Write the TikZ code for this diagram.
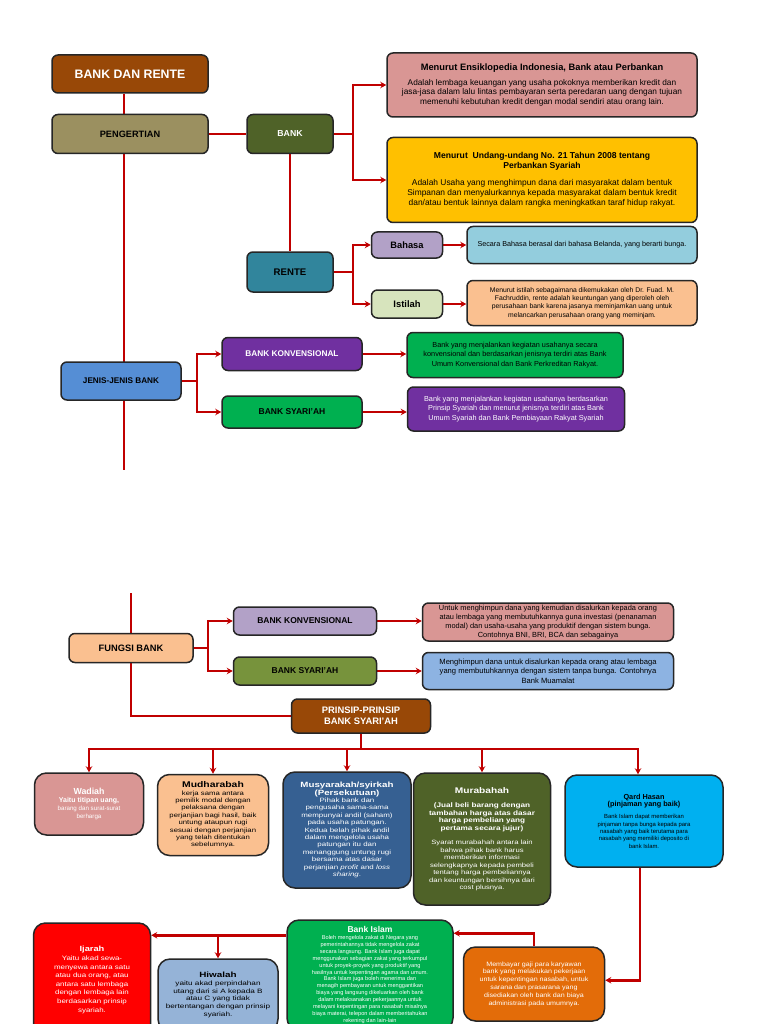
\documentclass[tikz,border=0pt]{standalone}
\usepackage{fontspec}
\setmainfont{Liberation Sans}
\usetikzlibrary{arrows.meta,calc}
\definecolor{lnred}{HTML}{C00000}
\definecolor{cBrown}{HTML}{984807}
\definecolor{cTan}{HTML}{9B9060}
\definecolor{cOlive}{HTML}{4F6228}
\definecolor{cPink}{HTML}{D99694}
\definecolor{cGold}{HTML}{FFC000}
\definecolor{cTeal}{HTML}{31859C}
\definecolor{cLav}{HTML}{B2A1C7}
\definecolor{cLgreen}{HTML}{D7E4BD}
\definecolor{cLblue}{HTML}{93CDDD}
\definecolor{cPeach}{HTML}{FAC090}
\definecolor{cBlue}{HTML}{558ED5}
\definecolor{cPurple}{HTML}{7030A0}
\definecolor{cGreen}{HTML}{00B050}
\definecolor{cMoss}{HTML}{77933C}
\definecolor{cSky}{HTML}{8DB3E2}
\definecolor{cNavy}{HTML}{366092}
\definecolor{cCyan}{HTML}{00B0F0}
\definecolor{cOrange}{HTML}{E36C09}
\definecolor{cRed}{HTML}{FF0000}
\definecolor{cSteel}{HTML}{95B3D7}
\newcommand\myfs[2]{\fontsize{#1}{#2}\selectfont}
\newcommand\mystretch[1]{\addfontfeatures{FakeStretch=#1}}
\pgfdeclarelayer{bg}\pgfsetlayers{bg,main}
\tikzset{
  tbox/.style={draw=black!85, line width=1.5pt, rounded corners=6pt, align=center, inner sep=1pt},
  pbox/.style={tbox, rounded corners=12pt},
  wh/.style 2 args={minimum width=#1pt, minimum height=#2pt},
  conn/.style={draw=lnred, line width=2.5pt},
  arr/.style={conn, -{Stealth[length=6pt,width=6.5pt]}},
}
\begin{document}
\begin{tikzpicture}[x=1pt,y=-1pt]
\useasboundingbox (0,0) rectangle (768,1024);

% ---------- top part ----------
\coordinate (sp) at (124,0);
\coordinate (spEnd) at (124,470);
\node[tbox, fill=cBrown, wh={156}{38}, text=white, font=\myfs{12.3}{14}\bfseries] (bdr) at (130,74) {BANK DAN RENTE};
\node[tbox, fill=cTan, wh={156}{39}, font=\myfs{9.2}{11}\bfseries] (peng) at (130,134) {PENGERTIAN};
\node[tbox, fill=cOlive, wh={86}{39}, text=white, font=\myfs{8.7}{10}\bfseries] (bank) at (290,134) {BANK};
\node[tbox, fill=cPink, wh={310}{64}, font=\myfs{8.3}{9.9}] (ens) at (542,85)
  {{\myfs{9.3}{10}\bfseries Menurut Ensiklopedia Indonesia, Bank atau Perbankan}\\[5pt]
   Adalah lembaga keuangan yang usaha pokoknya memberikan kredit dan\\
   jasa-jasa dalam lalu lintas pembayaran serta peredaran uang dengan tujuan\\
   memenuhi kebutuhan kredit dengan modal sendiri atau orang lain.};
\node[tbox, fill=cGold, wh={310}{85}, font=\myfs{8.4}{10.3}] (uu) at (542,180)
  {{\myfs{8.6}{10.5}\bfseries Menurut\ \ Undang-undang No. 21 Tahun 2008 tentang}\\
   {\myfs{8.6}{10.5}\bfseries Perbankan Syariah}\\[6pt]
   Adalah Usaha yang menghimpun dana dari masyarakat dalam bentuk\\
   Simpanan dan menyalurkannya kepada masyarakat dalam bentuk kredit\\
   dan/atau bentuk lainnya dalam rangka meningkatkan taraf hidup rakyat.};
\node[tbox, fill=cTeal, wh={86}{40}, font=\myfs{9.6}{11}\bfseries] (rente) at (290,272) {RENTE};
\node[tbox, fill=cLav, wh={71}{26}, font=\myfs{9.3}{11}\bfseries] (bahasa) at (407,245) {Bahasa};
\node[tbox, fill=cLgreen, wh={71}{28}, font=\myfs{9.4}{11}\bfseries] (istilah) at (407,304) {Istilah};
\node[tbox, fill=cLblue, wh={230}{37}, font=\myfs{7.2}{8.5}] (bahasaT) at (582,245)
  {Secara Bahasa berasal dari bahasa Belanda, yang berarti bunga.};
\node[tbox, fill=cPeach, wh={230}{45}, font=\myfs{6.8}{8.2}] (istilahT) at (582,303)
  {Menurut istilah sebagaimana dikemukakan oleh Dr. Fuad. M.\\
   Fachruddin, rente adalah keuntungan yang diperoleh oleh\\
   perusahaan bank karena jasanya meminjamkan uang untuk\\
   melancarkan perusahaan orang yang meminjam.};
\node[tbox, fill=cBlue, wh={120}{38}, font=\myfs{8.2}{10}\bfseries] (jenis) at (121,381) {JENIS-JENIS BANK};
\node[tbox, fill=cPurple, wh={140}{33}, text=white, font=\myfs{8.3}{10}\bfseries] (bk1) at (292,354) {BANK KONVENSIONAL};
\node[tbox, fill=cGreen, wh={140}{32}, font=\myfs{8.5}{10}\bfseries] (bs1) at (292,412) {BANK SYARI'AH};
\node[tbox, fill=cGreen, wh={216}{45}, font=\myfs{7.3}{9.6}] (bk1T) at (515,355)
  {Bank yang menjalankan kegiatan usahanya secara\\
   konvensional dan berdasarkan jenisnya terdiri atas Bank\\
   Umum Konvensional dan Bank Perkreditan Rakyat.};
\node[tbox, fill=cPurple, wh={217}{44}, text=white, font=\myfs{7.3}{9.6}] (bs1T) at (516,409)
  {Bank yang menjalankan kegiatan usahanya berdasarkan\\
   Prinsip Syariah dan menurut jenisnya terdiri atas Bank\\
   Umum Syariah dan Bank Pembiayaan Rakyat Syariah};

% ---------- bottom part ----------
\coordinate (sp2) at (131,593);
\node[tbox, fill=cPeach, wh={124}{29}, font=\myfs{9.3}{11}\bfseries] (fungsi) at (131,648) {FUNGSI BANK};
\node[tbox, fill=cLav, wh={143}{28}, font=\myfs{8.5}{10}\bfseries] (bk2) at (305,621) {BANK KONVENSIONAL};
\node[tbox, fill=cMoss, wh={143}{28}, font=\myfs{8.5}{10}\bfseries] (bs2) at (305,671) {BANK SYARI'AH};
\node[tbox, fill=cPink, wh={251}{38}, font=\myfs{7.4}{8.9}] (bk2T) at (548,622)
  {Untuk menghimpun dana yang kemudian disalurkan kepada orang\\
   atau lembaga yang membutuhkannya guna investasi (penanaman\\
   modal) dan usaha-usaha yang produktif dengan sistem bunga.\\
   Contohnya BNI, BRI, BCA dan sebagainya};
\node[tbox, fill=cSky, wh={251}{37}, font=\myfs{7.6}{9.4}] (bs2T) at (548,671)
  {Menghimpun dana untuk disalurkan kepada orang atau lembaga\\
   yang membutuhkannya dengan sistem tanpa bunga. Contohnya\\
   Bank Muamalat};
\node[tbox, fill=cBrown, wh={139}{34}, text=white, font=\myfs{9.4}{10.5}\bfseries] (prinsip) at (361,716)
  {PRINSIP-PRINSIP\\ BANK SYARI'AH};

\node[pbox, fill=cPink, wh={109}{62}, text=white, font=\myfs{6.2}{7.8}] (wadiah) at (89,804)
  {{\myfs{8.8}{9}\bfseries Wadiah}\\ {\myfs{7}{8}\bfseries Yaitu titipan uang,}\\ barang dan surat-surat\\ berharga};
\node[pbox, fill=cPeach, wh={111}{81}, font=\myfs{6.2}{7.4}\mystretch{1.25}] (mudh) at (213,815)
  {{\myfs{8.3}{9.5}\bfseries Mudharabah}\\ kerja sama antara\\ pemilik modal dengan\\ pelaksana dengan\\
   perjanjian bagi hasil, baik\\ untung ataupun rugi\\ sesuai dengan perjanjian\\ yang telah ditentukan\\ sebelumnya.};
\node[pbox, fill=cNavy, wh={128}{116}, text=white, font=\myfs{6.2}{7.4}\mystretch{1.28}] (musy) at (347,830)
  {{\myfs{7.6}{9.8}\bfseries Musyarakah/syirkah}\\ {\myfs{7.6}{9.8}\bfseries (Persekutuan)}\\ Pihak bank dan\\ pengusaha sama-sama\\
   mempunyai andil (saham)\\ pada usaha patungan.\\ Kedua belah pihak andil\\ dalam mengelola usaha\\
   patungan itu dan\\ menanggung untung rugi\\ bersama atas dasar\\ perjanjian \textit{profit} and \textit{loss}\\ \textit{sharing}.};
\node[pbox, fill=cOlive, wh={137}{132}, text=white, font=\myfs{6.2}{7.5}\mystretch{1.24}] (murab) at (482,839)
  {{\myfs{8.2}{9}\bfseries Murabahah}\\[7pt]
   {\myfs{6.6}{8.2}\bfseries (Jual beli barang dengan}\\ {\myfs{6.6}{8.2}\bfseries tambahan harga atas dasar}\\
   {\myfs{6.6}{8.2}\bfseries harga pembelian yang}\\ {\myfs{6.6}{8.2}\bfseries pertama secara jujur)}\\[7pt]
   Syarat murabahah antara lain\\ bahwa pihak bank harus\\ memberikan informasi\\ selengkapnya kepada pembeli\\
   tentang harga pembeliannya\\ dan keuntungan bersihnya dari\\ cost plusnya.};
\node[pbox, fill=cCyan, wh={158}{92}, font=\myfs{5.9}{7.3}] (qard) at (644,821)
  {{\myfs{7.3}{8.8}\bfseries Qard Hasan}\\ {\myfs{7.3}{8.8}\bfseries (pinjaman yang baik)}\\[5pt]
   Bank Islam dapat memberikan\\ pinjaman tanpa bunga kepada para\\ nasabah yang baik terutama para\\
   nasabah yang memiliki deposito di\\ bank Islam.};
\node[pbox, fill=cOrange, wh={141}{74}, text=white, font=\myfs{6.3}{7.8}\mystretch{1.13}] (oranye) at (534,984)
  {Membayar gaji para karyawan\\ bank yang melakukan pekerjaan\\ untuk kepentingan nasabah, untuk\\
   sarana dan prasarana yang\\ disediakan oleh bank dan biaya\\ administrasi pada umumnya.};
\node[pbox, fill=cGreen, wh={166}{110}, text=white, font=\myfs{5.6}{6.9}] (bislam) at (370,975)
  {{\myfs{8.5}{8}\bfseries Bank Islam}\\
   Boleh mengelola zakat di Negara yang\\ pemerintahannya tidak mengelola zakat\\ secara langsung. Bank Islam juga dapat\\
   menggunakan sebagian zakat yang terkumpul\\ untuk proyek-proyek yang produktif yang\\ hasilnya untuk kepentingan agama dan umum.\\
   Bank Islam juga boleh menerima dan\\ menagih pembayaran untuk menggantikan\\ biaya yang langsung dikeluarkan oleh bank\\
   dalam melaksanakan pekerjaannya untuk\\ melayani kepentingan para nasabah misalnya\\ biaya materai, telepon dalam memberitahukan\\ rekening dan lain-lain};
\node[pbox, fill=cRed, wh={117}{114}, text=white, font=\myfs{6.4}{8.6}\mystretch{1.24}] (ijarah) at (92,980)
  {{\myfs{7.5}{9}\bfseries Ijarah}\\ Yaitu akad sewa-\\ menyewa antara satu\\ atau dua orang, atau\\ antara satu lembaga\\
   dengan lembaga lain\\ berdasarkan prinsip\\ syariah.};
\node[pbox, fill=cSteel, wh={120}{72}, font=\myfs{6.3}{7.7}\mystretch{1.3}] (hiwalah) at (218,995)
  {{\myfs{7.6}{9}\bfseries Hiwalah}\\ yaitu akad perpindahan\\ utang dari si A kepada B\\ atau C yang tidak\\
   bertentangan dengan prinsip\\ syariah.};

% ---------- connectors ----------
\begin{pgfonlayer}{bg}
\fill[white] (0,0) rectangle (768,1024);
\draw[conn] (bdr.south -| sp) -- (peng.north -| sp);
\draw[conn] (peng.south -| sp) -- (spEnd);
\draw[conn] (peng.east) -- (bank.west);
\draw[arr] (bank.east) -- ++(19,0) |- (ens.west);
\draw[arr] (bank.east) -- ++(19,0) |- (uu.west);
\draw[conn] (bank.south) -- (rente.north);
\draw[arr] (rente.east) -- ++(19,0) |- (bahasa.west);
\draw[arr] (rente.east) -- ++(19,0) |- (istilah.west);
\draw[arr] (bahasa.east) -- (bahasaT.west);
\draw[arr] (istilah.east) -- (istilah.east -| istilahT.west);
\draw[arr] (jenis.east) -- ++(15,0) |- (bk1.west);
\draw[arr] (jenis.east) -- ++(15,0) |- (bs1.west);
\draw[arr] (bk1.east) -- (bk1.east -| bk1T.west);
\draw[arr] (bs1.east) -- (bs1.east -| bs1T.west);

\draw[conn] (sp2) -- (fungsi.north);
\draw[conn] (fungsi.south) |- (prinsip.west);
\draw[arr] (fungsi.east) -- ++(14,0) |- (bk2.west);
\draw[arr] (fungsi.east) -- ++(14,0) |- (bs2.west);
\draw[arr] (bk2.east) -- (bk2.east -| bk2T.west);
\draw[arr] (bs2.east) -- (bs2.east -| bs2T.west);
\draw[arr] (prinsip.south) -- ++(0,15) -| (wadiah.north);
\draw[arr] (prinsip.south) -- ++(0,15) -| (mudh.north);
\draw[arr] (prinsip.south) -- ++(0,15) -| (musy.north);
\draw[arr] (prinsip.south) -- ++(0,15) -| (murab.north);
\draw[arr] (prinsip.south) -- ++(0,15) -| ([xshift=-6pt]qard.north);
\draw[arr] ([xshift=-4pt]qard.south) |- ($(oranye.north east)+(0,34)$);
\draw[arr] (oranye.north) -- ++(0,-13) coordinate (oa) -- (oa -| bislam.east);
\coordinate (bi) at ($(bislam.north west)+(0,16)$);
\draw[arr] (bi) -- (bi -| ijarah.east);
\draw[arr] (bi -| hiwalah.north) -- (hiwalah.north);
\end{pgfonlayer}
\end{tikzpicture}
\end{document}
